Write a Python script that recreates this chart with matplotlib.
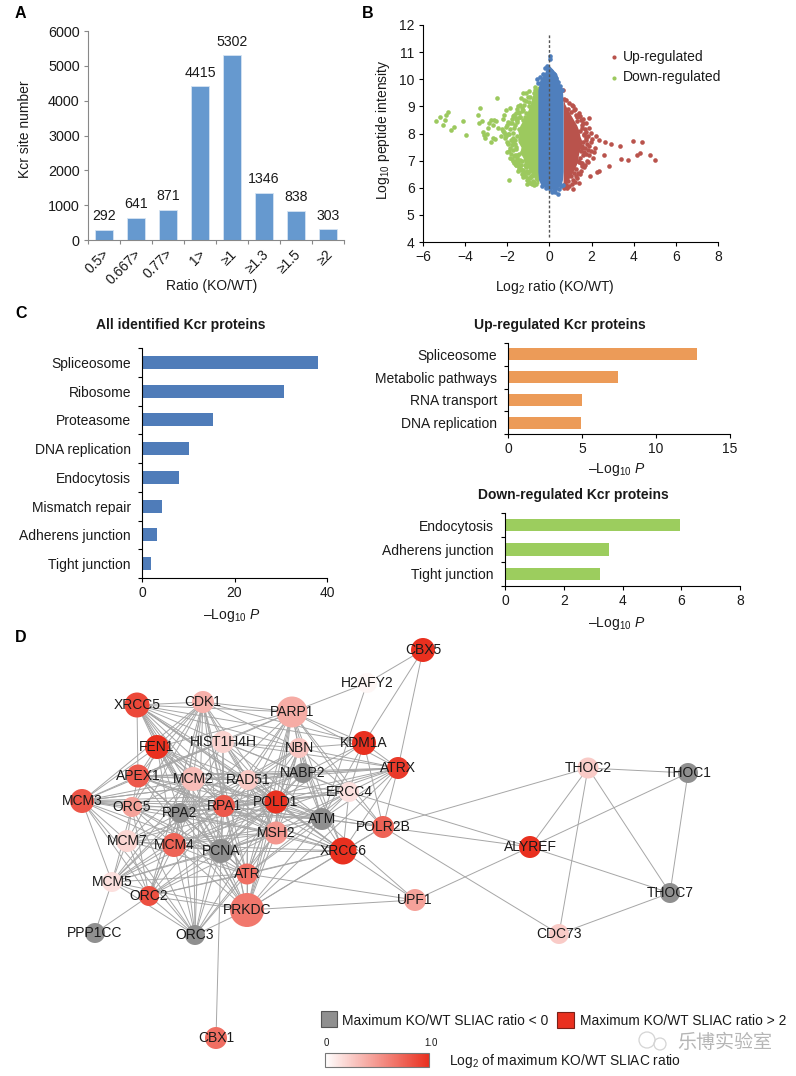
import numpy as np
import matplotlib
matplotlib.use('Agg')
import matplotlib.pyplot as plt
from matplotlib.colors import LinearSegmentedColormap
from matplotlib.colorbar import ColorbarBase
from matplotlib.patches import Rectangle, Circle
from matplotlib.transforms import ScaledTranslation

plt.rcParams['font.family'] = ['Liberation Sans', 'DejaVu Sans']
plt.rcParams['font.size'] = 10
plt.rcParams['mathtext.fontset'] = 'custom'
plt.rcParams['mathtext.rm'] = 'Liberation Sans'
plt.rcParams['mathtext.it'] = 'Liberation Sans:italic'
plt.rcParams['mathtext.default'] = 'regular'

W, H = 796, 1076

# panel A
ratio_cats = ['0.5>', '0.667>', '0.77>', '1>', '\u22651', '\u22651.3', '\u22651.5', '\u22652']
site_counts = [292, 641, 871, 4415, 5302, 1346, 838, 303]

# panel B, solid part of the cloud: intensity row, left edge, right edge
blue_y = [5.95, 6.1, 6.3, 6.6, 7, 8, 9, 9.6, 9.8, 10, 10.2, 10.4, 10.5]
blue_lo = [-0.05, -0.4, -0.52, -0.55, -0.55, -0.55, -0.55, -0.55, -0.5, -0.45, -0.25, -0.15, -0.15]
blue_hi = [0.3, 0.55, 0.62, 0.65, 0.65, 0.65, 0.65, 0.62, 0.5, 0.42, 0.35, 0.12, 0.0]
green_y = [6.15, 6.3, 6.5, 6.7, 6.9, 7.1, 7.3, 7.5, 7.7, 7.9, 8.1, 8.3, 8.5, 8.7, 8.9, 9.1, 9.3, 9.5, 9.75]
green_lo = [-0.55, -0.7, -0.8, -1.0, -1.2, -1.25, -1.4, -1.35, -1.5, -1.45, -1.5, -1.4, -1.25, -1.1, -1.0, -0.9,
            -0.85, -0.75, -0.55]
red_y = [6.05, 6.3, 6.5, 6.7, 6.9, 7.1, 7.3, 7.5, 7.7, 7.9, 8.1, 8.3, 8.5, 8.7, 8.9, 9.1, 9.3]
red_hi = [0.7, 0.9, 1.05, 1.2, 1.3, 1.35, 1.4, 1.5, 1.55, 1.45, 1.4, 1.3, 1.15, 1.0, 0.85, 0.72, 0.68]

# panel B, single points read around the solid part
down_x = [-5.4, -5.2, -5.05, -4.95, -4.9, -4.8, -4.55, -4.65, -4.1, -3.95, -3.4, -3.3, -3.35, -3.2, -3.15,
          -3.1, -3.05, -2.95, -2.9, -2.85, -2.75, -2.7, -2.65, -2.55, -2.5, -2.75, -2.7, -2.6, -2.45, -2.2,
          -2.15, -2.05, -1.85, -1.7, -1.55, -1.5, -1.35, -1.25, -1.1, -0.95, -1.9, -2.2, -2.1, -2.05, -2.0,
          -1.95, -1.9, -1.85, -1.85, -1.8, -1.8, -1.75, -1.7, -1.7, -1.65, -1.65, -1.6, -1.6, -1.55, -1.55,
          -1.5, -1.5, -1.45, -1.45, -1.4, -1.4, -1.35, -1.3, -1.3, -1.25, -1.25, -1.2, -1.2, -1.15, -1.1,
          -1.05, -1.0, -0.95, -0.9, -0.9, -0.85, -0.8, -0.75, -0.7, -1.6, -1.5, -1.4, -1.3, -1.2, -1.1,
          -1.0, -0.9, -0.8, -0.75, -0.7, -0.65, -1.05, -1.3, -0.95, -0.85, -1.55, -1.25, -1.15, -1.95, -2.0,
          -1.32, -1.46, -1.38, -1.52, -1.72, -1.56, -1.77, -1.96, -1.66, -1.87, -2.06, -2.24, -1.71, -1.92,
          -2.14, -2.31, -1.74, -1.83, -2.11, -1.62, -1.79, -1.97, -1.57, -1.73, -1.88, -2.02, -1.53, -1.68,
          -1.84, -1.42, -1.57, -1.76, -1.33, -1.44, -1.61, -1.07, -1.22, -1.36, -0.87, -1.03, -1.16, -0.72, -0.92,
          -1.65, -1.45, -1.6, -1.75, -1.55, -1.25, -1.12, -0.98, -1.18, -1.42, -1.27]
down_y = [8.47, 8.6, 8.33, 8.5, 8.7, 8.8, 8.25, 8.12, 8.45, 7.95, 8.7, 8.95, 8.37, 8.45, 8.05,
          7.95, 7.85, 8.0, 8.2, 8.4, 8.48, 8.3, 8.5, 8.45, 9.3, 7.7, 7.85, 7.8, 8.2, 8.55,
          8.7, 8.85, 8.95, 8.7, 8.9, 9.0, 9.3, 9.5, 9.5, 9.55, 6.3, 8.1, 8.0, 7.9, 8.3,
          7.6, 7.35, 8.4, 7.1, 7.75, 8.55, 7.0, 8.65, 6.9, 7.2, 8.3, 6.85, 8.75, 7.05, 8.5,
          6.95, 8.8, 7.25, 6.7, 6.85, 8.6, 6.7, 6.5, 8.95, 6.65, 8.85, 6.55, 9.05, 6.45, 9.2,
          6.3, 6.55, 6.2, 6.35, 9.35, 6.15, 6.25, 9.5, 9.6, 7.5, 6.6, 7.8, 7.0, 9.25, 6.75,
          9.35, 6.6, 6.5, 6.1, 9.7, 6.15, 6.15, 7.3, 9.0, 6.45, 7.9, 6.4, 8.6, 8.0, 7.7,
          8.82, 8.75, 8.62, 8.56, 8.63, 8.42, 8.37, 8.44, 8.22, 8.16, 8.25, 8.18, 8.03, 7.97,
          8.04, 7.92, 7.83, 7.77, 7.82, 7.62, 7.57, 7.66, 7.43, 7.38, 7.45, 7.33, 7.22, 7.16,
          7.24, 7.03, 6.97, 7.06, 6.83, 6.78, 6.85, 6.63, 6.58, 6.66, 6.42, 6.37, 6.44, 6.23, 6.18,
          7.75, 8.15, 8.55, 7.65, 7.15, 8.5, 8.75, 9.15, 6.85, 9.05, 6.5]
up_x = [5.03, 4.75, 4.32, 4.15, 4.4, 3.95, 3.35, 3.73, 3.42, 2.9, 2.64, 2.37, 2.2, 2.85, 2.58, 2.37, 2.26,
        1.93, 1.38, 1.14, 1.87, 1.9, 1.98, 1.74, 1.42, 2.15, 2.1, 1.9, 2.05, 1.75, 1.65, 1.8, 1.9, 1.55,
        0.63, 0.7, 0.8, 0.95, 1.1, 0.9, 1.0, 1.15, 1.25, 1.3, 1.45, 1.5, 1.6, 1.55, 1.7, 1.65, 1.75, 1.6,
        1.55, 1.6, 1.75, 1.85, 1.95, 1.85, 1.7, 1.8, 1.65, 1.5, 1.55, 1.45, 1.35, 1.3, 1.25, 1.2, 1.1, 1.05,
        0.95, 0.9, 0.85, 0.8, 0.75, 1.5, 1.4, 1.65, 1.7, 1.25, 1.45, 1.35, 1.5, 1.15, 1.0, 0.7, 1.3, 1.6,
        1.55, 1.4, 1.75, 1.85, 1.2, 1.05, 2.0, 1.95, 1.55, 1.45]
up_y = [7.04, 7.2, 7.28, 7.2, 7.68, 7.74, 7.54, 7.02, 7.05, 7.63, 7.68, 7.77, 7.9, 6.8, 7.2, 6.6, 6.57,
        6.42, 6.18, 5.96, 8.58, 8.2, 8.02, 8.39, 8.63, 7.45, 7.3, 7.2, 7.1, 7.75, 7.95, 7.6, 7.55, 6.9,
        9.6, 9.27, 9.25, 9.12, 9.0, 8.9, 8.8, 8.85, 8.7, 8.6, 8.65, 8.5, 8.4, 8.3, 8.15, 8.0, 7.85, 7.7,
        7.45, 7.2, 7.25, 7.4, 7.7, 6.95, 6.85, 7.0, 6.75, 6.6, 6.8, 6.5, 6.55, 6.35, 6.45, 6.2, 6.3, 6.15,
        6.05, 6.25, 6.0, 6.1, 6.15, 7.35, 6.95, 7.3, 7.45, 6.7, 7.1, 7.0, 6.9, 6.55, 6.45, 6.0, 8.45, 8.55,
        8.2, 8.75, 8.05, 7.9, 8.9, 9.05, 7.8, 7.35, 7.55, 8.1]
mid_x = [0.03, 0.05, 0.0, 0.08, -0.2, -0.1, 0.1, 0.2, 0.3, 0.35, 0.42, 0.5, 0.62, -0.6, -0.55, -0.45, -0.3,
         0.05, 0.1, 0.2, 0.3, 0.4, 0.45, 0.55, -0.15, 0.02, -0.05, 0.25, -0.35, 0.65]
mid_y = [10.85, 10.75, 10.35, 10.3, 10.4, 10.5, 10.1, 10.2, 10.05, 9.85, 9.9, 9.75, 9.6, 10.0, 9.85, 10.1, 10.2,
         5.95, 5.85, 5.9, 6.0, 5.78, 5.95, 6.05, 6.0, 6.05, 6.1, 5.85, 6.05, 6.1]

# panel C
all_terms = ['Spliceosome', 'Ribosome', 'Proteasome', 'DNA replication', 'Endocytosis',
             'Mismatch repair', 'Adherens junction', 'Tight junction']
all_p = [38, 30.7, 15.4, 10.2, 8.1, 4.3, 3.3, 1.9]
up_terms = ['Spliceosome', 'Metabolic pathways', 'RNA transport', 'DNA replication']
up_p = [12.75, 7.4, 5.0, 4.95]
down_terms = ['Endocytosis', 'Adherens junction', 'Tight junction']
down_p = [5.95, 3.53, 3.22]

# panel D: name, x, y, radius, log2 ratio (None = grey node)
node_names = ['CBX5', 'H2AFY2', 'XRCC5', 'CDK1', 'PARP1', 'FEN1', 'HIST1H4H', 'NBN', 'KDM1A', 'APEX1',
              'MCM2', 'RAD51', 'NABP2', 'ATRX', 'ERCC4', 'MCM3', 'ORC5', 'RPA2', 'RPA1', 'POLD1',
              'ATM', 'POLR2B', 'MSH2', 'MCM7', 'MCM4', 'PCNA', 'XRCC6', 'ATR', 'MCM5', 'ORC2',
              'PRKDC', 'UPF1', 'PPP1CC', 'ORC3', 'CBX1', 'ALYREF', 'THOC2', 'THOC1', 'THOC7', 'CDC73']
node_x = [423, 367, 137, 203, 292, 157, 223, 299, 364, 138,
          193, 248, 303, 398, 349, 82, 132, 180, 224, 276,
          322, 383, 276, 127, 174, 221, 343, 247, 112, 149,
          247, 415, 95, 195, 216, 530, 588, 688, 670, 559]
node_y = [650, 683, 705, 702, 712, 747, 742, 748, 743, 776,
          779, 780, 773, 768, 792, 801, 807, 813, 806, 802,
          819, 827, 833, 841, 845, 851, 851, 874, 882, 896,
          910, 900, 933, 935, 1038, 847, 768, 773, 893, 934]
node_r = [12, 10, 12.5, 11, 15.5, 12, 11, 10, 12, 11.5,
          12, 10, 10, 11, 10, 12, 10, 10, 11, 11.5,
          11, 11, 11.5, 11, 12, 12, 13.5, 10.5, 10, 10,
          17, 11, 10, 10, 11, 11, 10.5, 10, 10, 10]
node_val = [1.0, 0.04, 0.88, 0.38, 0.4, 1.0, 0.22, 0.28, 1.0, 0.8,
            0.32, 0.26, None, 0.95, 0.15, 0.82, 0.45, None, 0.8, 1.0,
            None, 0.75, 0.5, 0.2, 0.75, None, 1.0, 0.7, 0.15, 0.85,
            0.65, 0.45, None, None, 0.7, 1.0, 0.25, None, None, 0.25]

# each node with its partners further down the list
partners = {
    'XRCC5': ['CDK1', 'PARP1', 'FEN1', 'HIST1H4H', 'NBN', 'APEX1', 'MCM2', 'RAD51', 'RPA1', 'POLD1', 'ATM', 'MSH2',
              'PCNA', 'XRCC6', 'KDM1A', 'PRKDC', 'ATR'],
    'CDK1': ['PARP1', 'FEN1', 'HIST1H4H', 'NBN', 'APEX1', 'MCM2', 'RAD51', 'RPA1', 'RPA2', 'POLD1', 'ORC5', 'MCM3',
             'MCM4', 'MCM7', 'PCNA', 'ATR', 'ORC2', 'ORC3', 'PRKDC', 'KDM1A'],
    'PARP1': ['HIST1H4H', 'NBN', 'FEN1', 'APEX1', 'RAD51', 'NABP2', 'RPA1', 'POLD1', 'ATM', 'MSH2', 'XRCC6', 'KDM1A',
              'ATRX', 'POLR2B', 'PCNA', 'PRKDC', 'ATR', 'MCM5', 'ERCC4', 'H2AFY2'],
    'FEN1': ['APEX1', 'MCM2', 'RPA1', 'RPA2', 'POLD1', 'MCM3', 'ORC5', 'MCM4', 'PCNA', 'MSH2', 'ATR', 'PRKDC', 'RAD51', 'XRCC6'],
    'HIST1H4H': ['NBN', 'APEX1', 'MCM2', 'RAD51', 'NABP2', 'RPA1', 'POLD1', 'ATM', 'MCM3', 'MCM4', 'PCNA', 'ATRX', 'ERCC4', 'MSH2'],
    'NBN': ['RAD51', 'NABP2', 'RPA1', 'RPA2', 'POLD1', 'ATM', 'MSH2', 'XRCC6', 'KDM1A', 'ATRX', 'PCNA', 'PRKDC', 'ATR', 'ERCC4'],
    'KDM1A': ['NABP2', 'ATM', 'POLD1', 'POLR2B', 'ATRX', 'ERCC4', 'CBX5'],
    'APEX1': ['MCM2', 'RAD51', 'RPA1', 'RPA2', 'POLD1', 'MCM3', 'ORC5', 'PCNA', 'MSH2', 'ATR', 'XRCC6', 'NABP2', 'ATM', 'PRKDC', 'ATRX'],
    'MCM2': ['RAD51', 'RPA1', 'RPA2', 'MCM3', 'ORC5', 'MCM4', 'MCM5', 'MCM7', 'PCNA', 'ORC2', 'ORC3', 'ATM', 'POLD1', 'ATRX'],
    'RAD51': ['RPA1', 'RPA2', 'POLD1', 'ATM', 'MSH2', 'XRCC6', 'PCNA', 'ATR', 'PRKDC', 'NABP2', 'ERCC4', 'MCM3', 'ATRX'],
    'NABP2': ['RPA1', 'RPA2', 'POLD1', 'ATM', 'MSH2', 'ATRX', 'ERCC4', 'PCNA', 'MCM3'],
    'ATRX': ['ERCC4', 'ATM', 'POLD1', 'XRCC6', 'RPA1', 'PRKDC', 'MCM4', 'POLR2B', 'CBX5'],
    'ERCC4': ['POLD1', 'ATM', 'MSH2', 'XRCC6', 'RPA1', 'RPA2', 'PCNA', 'POLR2B', 'ALYREF', 'MCM3', 'ATR'],
    'MCM3': ['ORC5', 'RPA2', 'RPA1', 'POLD1', 'MCM7', 'MCM4', 'MCM5', 'PCNA', 'ORC2', 'ORC3', 'ATM', 'MSH2'],
    'ORC5': ['RPA2', 'RPA1', 'MCM7', 'MCM4', 'MCM5', 'PCNA', 'ORC2', 'ORC3', 'ATR'],
    'RPA2': ['RPA1', 'POLD1', 'ATM', 'MSH2', 'MCM7', 'MCM4', 'MCM5', 'PCNA', 'ORC2', 'ORC3', 'ATR', 'PRKDC', 'XRCC6'],
    'RPA1': ['POLD1', 'ATM', 'MSH2', 'MCM7', 'MCM4', 'MCM5', 'PCNA', 'XRCC6', 'ATR', 'ORC2', 'ORC3', 'PRKDC', 'POLR2B'],
    'POLD1': ['ATM', 'MSH2', 'MCM7', 'MCM4', 'PCNA', 'XRCC6', 'ATR', 'ORC2', 'PRKDC', 'POLR2B', 'MCM5', 'ORC3'],
    'ATM': ['MSH2', 'XRCC6', 'PCNA', 'ATR', 'PRKDC', 'POLR2B', 'MCM4', 'H2AFY2', 'UPF1'],
    'POLR2B': ['XRCC6', 'PRKDC', 'ALYREF', 'CDC73', 'THOC2'],
    'MSH2': ['MCM7', 'MCM4', 'PCNA', 'XRCC6', 'ATR', 'ORC2', 'ORC3', 'PRKDC', 'MCM5'],
    'MCM7': ['MCM4', 'MCM5', 'PCNA', 'ORC2', 'ORC3', 'ATR'],
    'MCM4': ['MCM5', 'PCNA', 'ATR', 'ORC2', 'ORC3', 'PRKDC', 'XRCC6'],
    'PCNA': ['XRCC6', 'ATR', 'MCM5', 'ORC2', 'ORC3', 'PRKDC', 'CBX1'],
    'XRCC6': ['ATR', 'PRKDC', 'UPF1', 'ORC2'],
    'ATR': ['MCM5', 'ORC2', 'ORC3', 'PRKDC', 'UPF1'],
    'MCM5': ['ORC2', 'ORC3', 'PPP1CC', 'PRKDC'],
    'ORC2': ['ORC3', 'PPP1CC', 'PRKDC'],
    'PRKDC': ['UPF1', 'ORC3'],
    'UPF1': ['ALYREF'],
    'H2AFY2': ['CBX5'],
    'ALYREF': ['THOC2', 'THOC1', 'THOC7'],
    'THOC2': ['THOC1', 'THOC7', 'CDC73'],
    'THOC1': ['THOC7'],
    'THOC7': ['CDC73'],
}

red_white = LinearSegmentedColormap.from_list('rw', ['#ffffff', '#e9301f'])
ink = '#1a1a1a'
plt.rcParams['text.color'] = ink
plt.rcParams['axes.labelcolor'] = ink
plt.rcParams['xtick.labelcolor'] = ink
plt.rcParams['ytick.labelcolor'] = ink

fig = plt.figure(figsize=(W / 100, H / 100), dpi=100)


def px_axes(left, top, right, bottom):
    return fig.add_axes([left / W, 1 - bottom / H, (right - left) / W, (bottom - top) / H])


def fig_text(x, y, s, **kw):
    fig.text(x / W, 1 - y / H, s, **kw)


for letter, x, y in [('A', 15, 14), ('B', 362, 14), ('C', 15, 313), ('D', 15, 638)]:
    fig_text(x, y, letter, fontweight='bold', fontsize=11.5, va='center', color='black')

# A
ax = px_axes(88, 31, 344, 240)
ax.bar(range(8), site_counts, width=0.58, color='#6699cf', edgecolor='#d5e4f3', linewidth=0.6)
for i, c in enumerate(site_counts):
    ax.text(i, c + 190, str(c), ha='center', va='bottom', fontsize=10.2)
ax.set_xlim(-0.5, 7.5)
ax.set_ylim(0, 6000)
ax.set_xticks(np.arange(-0.5, 8), labels=[])
ax.set_xticks(range(8), ratio_cats, minor=True, rotation=45, ha='right', rotation_mode='anchor')
ax.tick_params(axis='x', which='minor', length=0, pad=5, labelsize=10)
ax.tick_params(axis='both', which='major', length=3, width=0.8, color='#888888', labelsize=10.4, pad=3)
for lbl in ax.get_xticklabels(minor=True):
    lbl.set_transform(lbl.get_transform() + ScaledTranslation(-1.5 / 72, 0, fig.dpi_scale_trans))
for side in ['top', 'right']:
    ax.spines[side].set_visible(False)
for side in ['left', 'bottom']:
    ax.spines[side].set_color('#888888')
fig_text(25, 129, 'Kcr site number', ha='center', va='center', fontsize=10, rotation=90)
fig_text(212, 286, 'Ratio (KO/WT)', ha='center', va='center', fontsize=10)

# B
ax = px_axes(423, 25, 718, 242)
dot = dict(marker='o', s=11, linewidths=0)
ax.fill_betweenx(green_y, green_lo, -0.5, color='#9cc95e', lw=0, zorder=2)
ax.fill_betweenx(red_y, 0.65, red_hi, color='#b9534c', lw=0, zorder=2)
ax.scatter(down_x, down_y, color='#9cc95e', zorder=2, **dot)
ax.scatter(up_x, up_y, color='#b9534c', zorder=2, **dot)
ax.fill_betweenx(blue_y, blue_lo, blue_hi, color='#4f7fbd', lw=0, zorder=3)
ax.scatter(mid_x, mid_y, color='#4f7fbd', zorder=3, **dot)
ax.plot([0, 0], [4.2, 11.65], color='#555555', lw=1, ls=(0, (2, 1.5)), zorder=4)
ax.scatter([], [], color='#b9534c', marker='o', s=9, linewidths=0, label='Up-regulated')
ax.scatter([], [], color='#9cc95e', marker='o', s=9, linewidths=0, label='Down-regulated')
ax.legend(loc='upper left', bbox_to_anchor=(0.63, 0.885), frameon=False, fontsize=10,
          handlelength=0.7, handletextpad=0.3, labelspacing=0.46, borderpad=0, borderaxespad=0)
ax.set_xlim(-6, 8)
ax.set_ylim(4, 12)
ax.set_xticks(range(-6, 9, 2), ['\u22126', '\u22124', '\u22122', '0', '2', '4', '6', '8'])
ax.set_yticks(range(4, 13))
ax.tick_params(length=3, width=0.8, labelsize=10, pad=3)
for side in ['top', 'right']:
    ax.spines[side].set_visible(False)
fig_text(555, 287, 'Log$_2$ ratio (KO/WT)', ha='center', va='center', fontsize=10)
fig_text(383, 130, 'Log$_{10}$ peptide intensity', ha='center', va='center', fontsize=10, rotation=90)


# C
def term_bars(rect, terms, vals, color, xmax, step, height):
    a = px_axes(*rect)
    n = len(terms)
    a.barh(range(n), vals, height=height, color=color, edgecolor='none')
    a.set_ylim(n - 0.5, -0.5)
    a.set_xlim(0, xmax)
    a.set_xticks(np.arange(0, xmax + 1, step))
    a.set_yticks(np.arange(-0.5, n), labels=[])
    a.set_yticks(range(n), terms, minor=True)
    a.tick_params(axis='y', which='minor', length=0, pad=8, labelsize=10)
    a.tick_params(axis='both', which='major', length=3, width=0.8, labelsize=10, pad=3)
    for side in ['top', 'right']:
        a.spines[side].set_visible(False)


term_bars((142, 348, 327, 578), all_terms, all_p, '#4f7cb9', 40, 20, 0.46)
term_bars((508, 343, 730, 434), up_terms, up_p, '#ec9b58', 15, 5, 0.52)
term_bars((505, 513, 740, 586), down_terms, down_p, '#9ccd5e', 8, 2, 0.5)
for x, y, s in [(181, 325, 'All identified Kcr proteins'), (560, 325, 'Up-regulated Kcr proteins'),
                (573, 495, 'Down-regulated Kcr proteins')]:
    fig_text(x, y, s, fontweight='bold', ha='center', va='center', fontsize=10)
for x, y in [(232, 615), (617, 470), (617, 623)]:
    fig_text(x, y, '\u2013Log$_{10}$ $\\mathit{P}$', ha='center', va='center', fontsize=10)

# D
ax = px_axes(0, 630, W, H)
ax.set_xlim(0, W)
ax.set_ylim(H, 630)
ax.axis('off')
idx = {n: i for i, n in enumerate(node_names)}
for a, others in partners.items():
    for b in others:
        ax.plot([node_x[idx[a]], node_x[idx[b]]], [node_y[idx[a]], node_y[idx[b]]],
                color='#a6a6a6', lw=0.7, zorder=1)
node_col = ['#8f8f8f' if v is None else red_white(v) for v in node_val]
ax.scatter(node_x, node_y, s=[(2 * r * 0.72) ** 2 for r in node_r], c=node_col, linewidths=0, zorder=2)
for n, x, y in zip(node_names, node_x, node_y):
    ax.text(x, y, n, ha='center', va='center', fontsize=10, color='#1a1a1a', zorder=3)

ax.add_patch(Rectangle((321, 1011), 16, 16, facecolor='#8f8f8f', edgecolor='#555555', lw=0.8))
ax.add_patch(Rectangle((557, 1012), 17, 16, facecolor='#e9301f', edgecolor='#7a2018', lw=0.8))
ax.text(342, 1021, 'Maximum KO/WT SLIAC ratio < 0', va='center', fontsize=9.9)
ax.text(580, 1021, 'Maximum KO/WT SLIAC ratio > 2', va='center', fontsize=9.9)
ax.text(326, 1043, '0', ha='center', va='center', fontsize=7)
ax.text(431, 1043, '1.0', ha='center', va='center', fontsize=7)
ax.text(449, 1061, 'Log$_2$ of maximum KO/WT SLIAC ratio', va='center', fontsize=9.9)

# watermark
ax.add_patch(Circle((647, 1040), 8, fill=False, edgecolor='#d4d4d4', lw=0.9))
ax.add_patch(Circle((660, 1044), 6, fill=False, edgecolor='#d4d4d4', lw=0.9))
ax.text(677, 1043, '\u4e50\u535a\u5b9e\u9a8c\u5ba4', va='center', fontsize=13.7, color='#b5b5b5',
        family=['Noto Sans CJK SC', 'DejaVu Sans'])

cax = px_axes(325, 1053, 429, 1067)
cb = ColorbarBase(cax, cmap=red_white, orientation='horizontal')
cb.set_ticks([])
cb.outline.set_edgecolor('#777777')
cb.outline.set_linewidth(0.8)

fig.savefig('out.png', dpi=100)
